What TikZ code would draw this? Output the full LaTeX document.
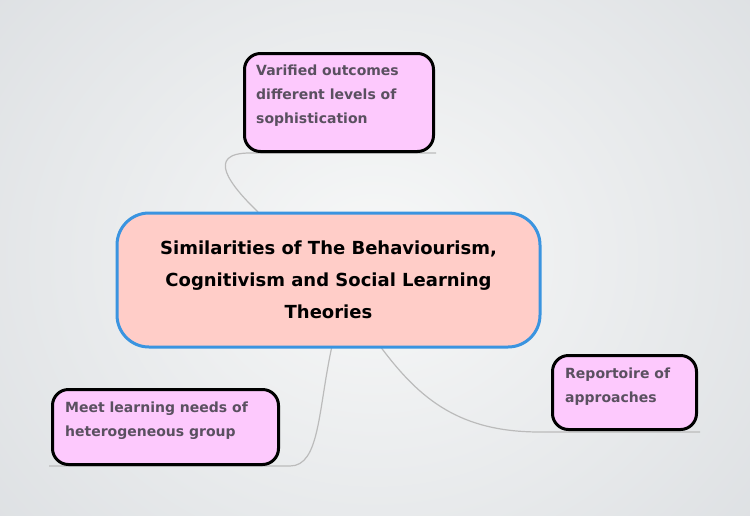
\documentclass[tikz,border=0pt]{standalone}
\usepackage{fontspec}
\setmainfont{DejaVu Sans}
\begin{document}
\begin{tikzpicture}[x=1pt,y=-1pt,
  sub/.style={draw=black,line width=3pt,rounded corners=16pt,fill=subfill,anchor=north west,inner sep=0pt},
  subt/.style={anchor=north west,align=left,text=subtext,font=\fontsize{14}{24}\selectfont\bfseries,inner sep=0pt},
  conn/.style={draw=linegray,line width=1.2pt}]
\definecolor{subfill}{HTML}{FDC9FD}
\definecolor{subtext}{HTML}{5A5060}
\definecolor{cfill}{HTML}{FFCDC8}
\definecolor{cblue}{HTML}{3A94E0}
\definecolor{linegray}{HTML}{BBBBBB}
\definecolor{bgout}{HTML}{DCDFE2}
\definecolor{bgin}{HTML}{F7F8F8}
\useasboundingbox (0,0) rectangle (750,515);
\shade[inner color=bgin,outer color=bgout] (-150,-200) rectangle (900,715);
\coordinate (tr) at (436,153);
\coordinate (rr) at (700,432);
\coordinate (ll) at (49,466); \coordinate (lr) at (290,466);
\coordinate (c1) at (258,212); \coordinate (c2) at (380,346); \coordinate (c3) at (332,346);
\draw[conn] (c1) .. controls (230,185) and (205,153) .. (250,153) -- (tr);
\draw[conn] (c2) .. controls (420,400) and (460,432) .. (540,432) -- (rr);
\draw[conn] (c3) .. controls (318,410) and (320,466) .. (lr) -- (ll);
\node[draw=cblue,line width=3pt,fill=cfill,rounded corners=32pt,minimum width=423pt,minimum height=134pt,align=center,font=\fontsize{18}{32}\selectfont\bfseries] (c) at (328.5,280) {Similarities of The Behaviourism,\\Cognitivism and Social Learning\\Theories};
\node[sub,minimum width=189pt,minimum height=98pt] (t) at (243,52) {};
\node[subt] (tt) at (256,65) {Varified outcomes\\different levels of\\sophistication};
\node[sub,minimum width=144pt,minimum height=74pt] (r) at (551,354) {};
\node[subt] (rt) at (565,368) {Reportoire of\\approaches};
\node[sub,minimum width=226pt,minimum height=75pt] (l) at (51,388) {};
\node[subt] (lt) at (65,402) {Meet learning needs of\\heterogeneous group};
\end{tikzpicture}
\end{document}
